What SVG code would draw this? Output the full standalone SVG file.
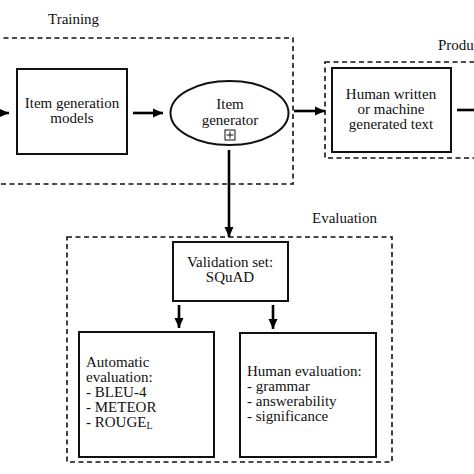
<svg xmlns="http://www.w3.org/2000/svg" width="474" height="474" viewBox="0 0 474 474">
<defs>
<marker id="ah" markerUnits="userSpaceOnUse" markerWidth="12" markerHeight="10" refX="10" refY="5" orient="auto">
<path d="M0,0.5 L10,5 L0,9.5 Z" fill="#000"/>
</marker>
</defs>
<style>
text{font-family:"Liberation Serif","Times New Roman",serif;font-size:15px;fill:#111}
.box{fill:#fff;stroke:#111;stroke-width:2}
.dash{fill:none;stroke:#111;stroke-width:1.6;stroke-dasharray:5 3.5}
.c{fill:none;stroke:#000;stroke-width:2.6}
.m{text-anchor:middle}
</style>
<rect width="474" height="474" fill="#fff"/>
<g id="groups">
<rect class="dash" x="-5" y="38" width="298" height="146"/>
<text x="48" y="24">Training</text>
<rect class="dash" x="325" y="62" width="160" height="96"/>
<text x="438" y="50">Produ</text>
<rect class="dash" x="67" y="237" width="325" height="225"/>
<text x="312" y="223">Evaluation</text>
</g>
<g id="connectors">
<line class="c" x1="-2" y1="113" x2="9" y2="113" marker-end="url(#ah)"/>
<line class="c" x1="133" y1="113" x2="163" y2="113" marker-end="url(#ah)"/>
<line class="c" x1="294" y1="111" x2="325" y2="111" marker-end="url(#ah)"/>
<line class="c" x1="457" y1="110" x2="478" y2="110"/>
<line class="c" x1="229" y1="150" x2="229" y2="237" stroke-width="3" marker-end="url(#ah)"/>
<line class="c" x1="179" y1="305" x2="179" y2="328" stroke-width="3" marker-end="url(#ah)"/>
<line class="c" x1="273" y1="305" x2="273" y2="329" stroke-width="3" marker-end="url(#ah)"/>
</g>
<g id="item-generation-models">
<rect class="box" x="17" y="69" width="110" height="85"/>
<text class="m" x="72" y="108">Item generation</text>
<text class="m" x="72" y="123">models</text>
</g>
<g id="item-generator">
<ellipse class="box" cx="229.5" cy="113" rx="59" ry="32"/>
<text class="m" x="230" y="109">Item</text>
<text class="m" x="230" y="125">generator</text>
<rect x="225" y="130" width="10" height="10" fill="none" stroke="#111" stroke-width="1"/>
<line x1="230" y1="131.5" x2="230" y2="138.5" stroke="#111" stroke-width="1"/>
<line x1="226.5" y1="135" x2="233.5" y2="135" stroke="#111" stroke-width="1"/>
</g>
<g id="text-source">
<rect class="box" x="332" y="68" width="119" height="84"/>
<text class="m" x="391" y="99">Human written</text>
<text class="m" x="391" y="114">or machine</text>
<text class="m" x="391" y="129">generated text</text>
</g>
<g id="validation-set">
<rect class="box" x="173" y="242" width="115" height="59"/>
<text class="m" x="230" y="267">Validation set:</text>
<text class="m" x="230" y="282">SQuAD</text>
</g>
<g id="automatic-evaluation">
<rect class="box" x="79" y="332" width="135" height="125"/>
<text x="86" y="367">Automatic</text>
<text x="86" y="382">evaluation:</text>
<text x="86" y="397">- BLEU-4</text>
<text x="86" y="412">- METEOR</text>
<text x="86" y="427">- ROUGE<tspan font-size="10" dy="2">L</tspan></text>
</g>
<g id="human-evaluation">
<rect class="box" x="240" y="333" width="136" height="124"/>
<text x="247" y="376">Human evaluation:</text>
<text x="247" y="391">- grammar</text>
<text x="247" y="406">- answerability</text>
<text x="247" y="421">- significance</text>
</g>
</svg>
